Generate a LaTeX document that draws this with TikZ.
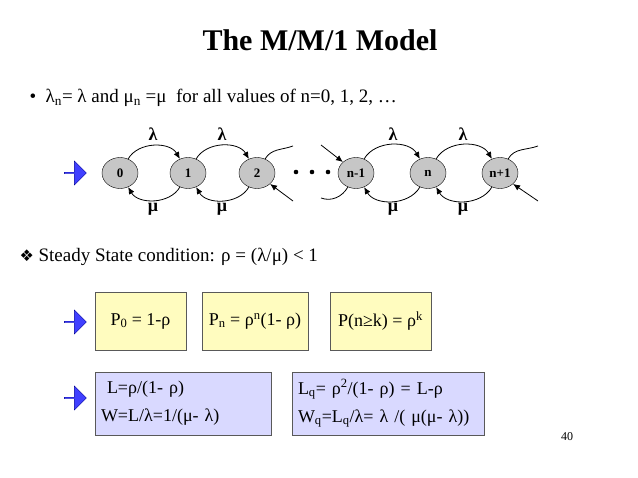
\documentclass[tikz,border=0pt]{standalone}
\usepackage{fontspec}
\setmainfont{Liberation Serif}
\newfontfamily\symfont{DejaVu Sans}
\usetikzlibrary{shapes.geometric,shapes.arrows,arrows.meta}
\begin{document}
\begin{tikzpicture}[x=1pt,y=-1pt,
    state/.style={ellipse,draw,fill=gray!45,minimum width=36pt,minimum height=31pt,inner xsep=0pt,inner ysep=6pt,font=\fontsize{13}{13}\bfseries},
    rate/.style={font=\fontsize{18}{18}\bfseries},
    trans/.style={->,>={Latex[length=7pt,width=6pt]},thick},
    bigarrow/.style={single arrow,draw=blue!60!black,fill=blue!75,minimum width=24pt,single arrow head extend=3pt,single arrow head indent=0pt,minimum height=22pt,inner sep=0pt},
    ybox/.style={draw=gray!70!black,fill=yellow!25,font=\fontsize{18}{18}\selectfont},
    bbox/.style={draw=gray!70!black,fill=blue!15,font=\fontsize{18}{18}\selectfont}]
    \useasboundingbox (0,0) rectangle (638,478);

    \node[font=\fontsize{30}{30}\bfseries] (title) at (320,40) {The M/M/1 Model};
    \node[anchor=west,font=\fontsize{19}{19}\selectfont] (rates) at (26,98)
        {\textbullet\ \ λ\textsubscript{n}= λ and μ\textsubscript{n} =μ \ for all values of n=0, 1, 2, …};

    \node[bigarrow] (a1) at (75,173) {};
    \node[state] (s0) at (120,173) {0};
    \node[state] (s1) at (188,173) {1};
    \node[state] (s2) at (257,173) {2};
    \node[state] (sm) at (356,173) {n-1};
    \node[state] (sn) at (428,173) {n};
    \node[state] (sp) at (500,173) {n+1};
    \foreach \x in {296,312,328} \fill (\x,172) circle (2.3);

    \foreach \a/\b in {s0/s1,s1/s2,sm/sn,sn/sp} {
        \draw[trans] (\a.60) to[out=60,in=120] (\b.120);
        \draw[trans] (\b.-120) to[out=-120,in=-60] (\a.-60);
    }
    \node[rate] (l1) at (153,134) {λ};
    \node[rate] (l2) at (222,134) {λ};
    \node[rate] (l3) at (393,134) {λ};
    \node[rate] (l4) at (463,134) {λ};
    \node[rate] (m1) at (153,209) {μ};
    \node[rate] (m2) at (222,209) {μ};
    \node[rate] (m3) at (393,209) {μ};
    \node[rate] (m4) at (463,209) {μ};

    \coordinate (o2) at (293,146);
    \coordinate (i2) at (293,201);
    \coordinate (om) at (321,198);
    \coordinate (im) at (321,145);
    \coordinate (op) at (538,146);
    \coordinate (ip) at (538,201);
    \draw[thick] (s2.60) to[out=60,in=200] (o2);
    \draw[trans] (i2) -- (s2.-40);
    \draw[trans] (im) -- (sm.140);
    \draw[thick] (sm.-120) to[out=-120,in=-20] (om);
    \draw[thick] (sp.60) to[out=60,in=200] (op);
    \draw[trans] (ip) -- (sp.-40);

    \node[anchor=west,font=\fontsize{19}{19}\selectfont] (steady) at (16,257)
        {{\symfont\fontsize{16}{16}\selectfont ❖} Steady State condition: ρ = (λ/μ) < 1};

    \node[bigarrow] (a2) at (75,322) {};
    \node[ybox,minimum width=91pt,minimum height=58pt] (p0) at (140.5,321) {P\textsubscript{0} = 1-ρ};
    \node[ybox,minimum width=106pt,minimum height=58pt] (pn) at (255,321) {P\textsubscript{n} = ρ\textsuperscript{n}(1- ρ)};
    \node[ybox,minimum width=101pt,minimum height=58pt] (pk) at (380.5,321) {P(n≥k) = ρ\textsuperscript{k}};

    \node[bigarrow] (a3) at (75,398) {};
    \node[bbox,minimum width=176pt,minimum height=63pt,align=left,text width=164pt] (lw) at (183,403.5)
        {\ L=ρ/(1- ρ)\\[10pt]W=L/λ=1/(μ- λ)};
    \node[bbox,minimum width=192pt,minimum height=63pt,align=left,text width=180pt] (lq) at (388,403.5)
        {L\textsubscript{q}= ρ\textsuperscript{2}/(1- ρ) = L-ρ\\[10pt]W\textsubscript{q}=L\textsubscript{q}/λ= λ /( μ(μ- λ))};

    \node[font=\fontsize{12}{12}\selectfont] (page) at (567,437) {40};
\end{tikzpicture}
\end{document}
